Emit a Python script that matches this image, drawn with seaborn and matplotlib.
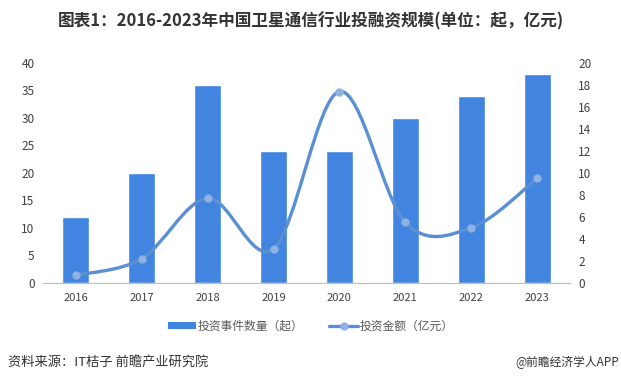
import numpy as np
import pandas as pd
import matplotlib
matplotlib.use('Agg')
import matplotlib.pyplot as plt
from matplotlib.path import Path
from matplotlib.patches import PathPatch, Patch
from matplotlib.lines import Line2D
import seaborn as sns

sns.set_style('white')
plt.rcParams['font.family'] = ['Noto Sans CJK SC', 'DejaVu Sans']

# ──────────────────────────────────────────────
# Data
# ──────────────────────────────────────────────
years = ['2016', '2017', '2018', '2019', '2020', '2021', '2022', '2023']
event_counts = [12, 20, 36, 24, 24, 30, 34, 38]           # 投资事件数量（起）
invest_amounts = [0.7, 2.2, 7.7, 3.1, 17.4, 5.5, 5.0, 9.5]  # 投资金额（亿元）

BAR_COLOR = '#4285E0'
LINE_COLOR = '#5B8FD3'
MARK_COLOR = '#8DB2E3'
TEXT_COLOR = '#404040'

df = pd.DataFrame({'year': years, 'count': event_counts, 'amount': invest_amounts})


def smooth_path(xs, ys):
    """Excel-style smoothed line: Catmull-Rom segments as cubic Bezier"""
    pts = np.column_stack([xs, ys]).astype(float)
    ext = np.vstack([pts[0], pts, pts[-1]])
    verts = [pts[0]]
    codes = [Path.MOVETO]
    for i in range(len(pts) - 1):
        p0, p1, p2, p3 = ext[i], ext[i + 1], ext[i + 2], ext[i + 3]
        c1 = p1 + (p2 - p0) / 6.0
        c2 = p2 - (p3 - p1) / 6.0
        verts += [c1, c2, p2]
        codes += [Path.CURVE4] * 3
    return Path(verts, codes)


fig = plt.figure(figsize=(6.21, 3.86), dpi=100)
ax = fig.add_axes([0.069, 0.267, 0.849, 0.570])

sns.barplot(data=df, x='year', y='count', color=BAR_COLOR, saturation=1,
            width=0.41, ax=ax)
ax.set_ylim(0, 40)
ax.set_yticks(range(0, 41, 5))
ax.set_xlim(-0.5, len(years) - 0.5)
ax.set_xlabel('')
ax.set_ylabel('')

ax2 = ax.twinx()
ax2.set_ylim(0, 20)
ax2.set_yticks(range(0, 21, 2))
xpos = np.arange(len(years))
ax2.add_patch(PathPatch(smooth_path(xpos, invest_amounts), facecolor='none',
                        edgecolor=LINE_COLOR, linewidth=2.4, capstyle='round'))
ax2.plot(xpos, invest_amounts, linestyle='none', marker='o', markersize=5,
         markerfacecolor=MARK_COLOR, markeredgecolor=MARK_COLOR)

for a in (ax, ax2):
    for s in ('top', 'left', 'right'):
        a.spines[s].set_visible(False)
    a.spines['bottom'].set_color('#BFBFBF')
    a.tick_params(axis='y', length=0, labelsize=8.5, labelcolor=TEXT_COLOR, pad=6)
    a.grid(False)

# category ticks sit between bars
ax.set_xticks(xpos)
ax.set_xticklabels(years)
ax.tick_params(axis='x', which='major', length=0, labelsize=8, labelcolor=TEXT_COLOR, pad=7)
ax.set_xticks(np.arange(-0.5, len(years)), minor=True)
ax.tick_params(axis='x', which='minor', length=4, color='#BFBFBF', direction='out')

fig.text(0.5, 0.945, '图表1：2016-2023年中国卫星通信行业投融资规模(单位：起，亿元)',
         ha='center', va='center', fontsize=12, fontweight='bold', color='#333333')

handles = [Patch(facecolor=BAR_COLOR, edgecolor='none', label='投资事件数量（起）'),
           Line2D([0], [0], color=LINE_COLOR, linewidth=2.4, marker='o', markersize=5,
                  markerfacecolor=MARK_COLOR, markeredgecolor=MARK_COLOR,
                  label='投资金额（亿元）')]
fig.legend(handles=handles, loc='center', bbox_to_anchor=(0.5, 0.155), ncol=2,
           frameon=False, fontsize=8.5, labelcolor='#595959', handlelength=2.4,
           handleheight=0.5, handletextpad=0.15, columnspacing=2.2)

fig.text(0.013, 0.062, '资料来源：IT桔子 前瞻产业研究院', ha='left', va='center',
         fontsize=9.5, color='#333333')
fig.text(0.997, 0.062, '@前瞻经济学人APP', ha='right', va='center',
         fontsize=8.5, color='#333333')

plt.savefig('out.png', dpi=100)
